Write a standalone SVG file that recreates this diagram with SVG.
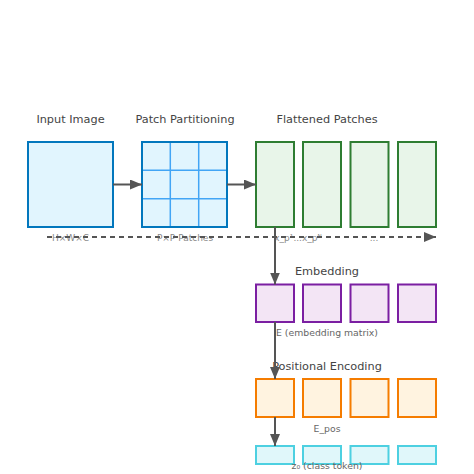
<svg xmlns="http://www.w3.org/2000/svg" width="474" height="474" viewBox="0 0 474 474">
<defs>
<style>
text{font-family:"DejaVu Sans","Liberation Sans",sans-serif}
.title{font-size:11.3px;fill:#444;text-anchor:middle}
.lbl{font-size:9.3px;fill:#666;text-anchor:middle}
.dim{font-size:9px;fill:#888;text-anchor:middle}
.conn{stroke:#555;stroke-width:2;fill:none}
.img{fill:#e1f5fe;stroke:#0277bd;stroke-width:2}
.grid{stroke:#42a5f5;stroke-width:1.5}
.flat{fill:#e8f5e9;stroke:#2e7d32;stroke-width:2}
.emb{fill:#f3e5f5;stroke:#7b1fa2;stroke-width:2}
.pos{fill:#fff3e0;stroke:#f57c00;stroke-width:2}
.tok{fill:#e0f7fa;stroke:#4dd0e1;stroke-width:2}
</style>
<marker id="ah" viewBox="0 0 12 10" refX="12" refY="5" markerWidth="12" markerHeight="10" markerUnits="userSpaceOnUse" orient="auto">
<path d="M0,0 L12,5 L0,10 z" fill="#555"/>
</marker>
</defs>
<rect width="474" height="474" fill="#fff"/>
<g id="input-image">
<text class="title" x="70.5" y="123">Input Image</text>
<rect class="img" x="28" y="142" width="85" height="85"/>
<text class="dim" x="70.5" y="241">H×W×C</text>
</g>
<g id="patch-partitioning">
<text class="title" x="185" y="123">Patch Partitioning</text>
<rect class="img" x="142" y="142" width="85" height="85"/>
<line class="grid" x1="170.3" y1="143" x2="170.3" y2="226"/>
<line class="grid" x1="198.7" y1="143" x2="198.7" y2="226"/>
<line class="grid" x1="143" y1="170.3" x2="226" y2="170.3"/>
<line class="grid" x1="143" y1="198.7" x2="226" y2="198.7"/>
<text class="dim" x="185" y="241">P×P Patches</text>
</g>
<g id="flattened-patches">
<text class="title" x="327" y="123">Flattened Patches</text>
<rect class="flat" x="256" y="142" width="38" height="85"/>
<rect class="flat" x="303" y="142" width="38" height="85"/>
<rect class="flat" x="350.5" y="142" width="38" height="85"/>
<rect class="flat" x="398" y="142" width="38" height="85"/>
<text class="dim" x="298" y="241">x_p¹...x_pᴺ</text>
<text class="dim" x="374" y="241">...</text>
</g>
<g id="embedding">
<text class="title" x="327" y="275">Embedding</text>
<rect class="emb" x="256" y="284.5" width="38" height="37.5"/>
<rect class="emb" x="303" y="284.5" width="38" height="37.5"/>
<rect class="emb" x="350.5" y="284.5" width="38" height="37.5"/>
<rect class="emb" x="398" y="284.5" width="38" height="37.5"/>
<text class="lbl" x="327" y="336">E (embedding matrix)</text>
</g>
<g id="positional-encoding">
<text class="title" x="327" y="370">Positional Encoding</text>
<rect class="pos" x="256" y="379" width="38" height="38"/>
<rect class="pos" x="303" y="379" width="38" height="38"/>
<rect class="pos" x="350.5" y="379" width="38" height="38"/>
<rect class="pos" x="398" y="379" width="38" height="38"/>
<text class="lbl" x="327" y="432">E_pos</text>
</g>
<g id="class-token">
<rect class="tok" x="256" y="446" width="38" height="18"/>
<rect class="tok" x="303" y="446" width="38" height="18"/>
<rect class="tok" x="350.5" y="446" width="38" height="18"/>
<rect class="tok" x="398" y="446" width="38" height="18"/>
<text class="lbl" x="327" y="469">z₀ (class token)</text>
</g>
<g id="connectors">
<line class="conn" x1="47" y1="237" x2="436" y2="237" stroke-dasharray="5,4" marker-end="url(#ah)"/>
<line class="conn" x1="113" y1="184.5" x2="142" y2="184.5" marker-end="url(#ah)"/>
<line class="conn" x1="227" y1="184.5" x2="256" y2="184.5" marker-end="url(#ah)"/>
<line class="conn" x1="275" y1="227" x2="275" y2="284.5" marker-end="url(#ah)"/>
<line class="conn" x1="275" y1="322" x2="275" y2="379" marker-end="url(#ah)"/>
<line class="conn" x1="275" y1="417" x2="275" y2="446" marker-end="url(#ah)"/>
</g>
</svg>
